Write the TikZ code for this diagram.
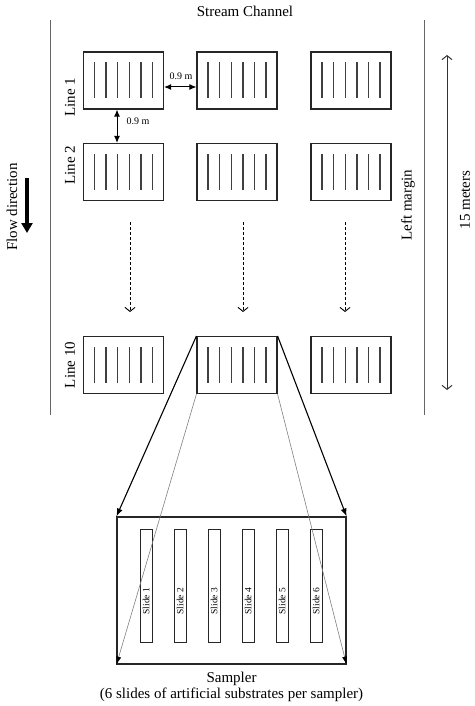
\documentclass[tikz,border=0pt]{standalone}
\usepackage{fontspec}
\setmainfont{Liberation Serif}
\usetikzlibrary{arrows.meta}

\begin{document}
\begin{tikzpicture}[x=1pt,y=-1pt,
	box/.style={draw=black!85, line width=1.1pt, fill=white, minimum width=80pt, minimum height=57pt,
		path picture={\foreach \k in {-2.5,-1.5,...,2.5}
			\draw[black!75, line width=1.4pt] ([xshift=\k*11.6pt, yshift=18pt]path picture bounding box.center) -- ([xshift=\k*11.6pt, yshift=-18pt]path picture bounding box.center);}}]
		\tikzstyle{big} = [font=\fontsize{15}{16}\selectfont]
		\tikzstyle{small} = [font=\fontsize{10}{11}\selectfont]
		\tikzstyle{slide} = [draw=black!85, line width=1pt, minimum width=12pt, minimum height=113pt, inner sep=0pt]
		\tikzstyle{slidetxt} = [rotate=90, font=\fontsize{9.5}{10}\selectfont, inner sep=0pt]
		\tikzstyle{bank} = [draw=black!60, line width=1pt]
		\tikzstyle{dim} = [{Latex[length=7pt,width=6pt]}-{Latex[length=7pt,width=6pt]}, line width=1pt]
		\tikzstyle{nextline} = [-{Straight Barb[length=4pt,width=10pt]}, line width=0.9pt, dash pattern=on 3pt off 2pt]
		\tikzstyle{zoomline} = [-{Latex[length=8pt,width=5pt,black]}, color=black!50, line width=0.6pt]

		\useasboundingbox (0,0) rectangle (474,706);

		% Channel banks
		\node[big] (title) at (245,11) {Stream Channel};
		\draw[bank] (50,20) -- (50,415);
		\draw[bank] (424,20) -- (424,415);
		\node[big, rotate=90] (margin) at (408,205) {Left margin};

		% Samplers on the lines
		\node[box] (a1) at (123.5,80.5) {};
		\node[box] (b1) at (237,80.5) {};
		\node[box] (c1) at (351,80.5) {};
		\node[box] (a2) at (123.5,172) {};
		\node[box] (b2) at (237,172) {};
		\node[box] (c2) at (351,172) {};
		\node[box] (a10) at (123.5,365) {};
		\node[box] (b10) at (237,365) {};
		\node[box] (c10) at (351,365) {};

		\node[big, rotate=90] (line1) at (70,97) {Line 1};
		\node[big, rotate=90] (line2) at (70,165) {Line 2};
		\node[big, rotate=90] (line10) at (70,365) {Line 10};

		% Spacing
		\path[dim] ([yshift=-6.5pt]a1.east) edge ([yshift=-6.5pt]b1.west);
		\path[dim] ([xshift=-6.5pt]a1.south) edge ([xshift=-6.5pt]a2.north);
		\node[small] (gapx) at (181,76) {0.9 m};
		\node[small] (gapy) at (138,121) {0.9 m};

		% Lines 3 to 9
		\coordinate (da) at (130,222);
		\coordinate (ea) at (130,312);
		\coordinate (db) at (243,222);
		\coordinate (eb) at (243,312);
		\coordinate (dc) at (345,222);
		\coordinate (ec) at (345,312);
		\path[nextline] (da) edge (ea);
		\path[nextline] (db) edge (eb);
		\path[nextline] (dc) edge (ec);

		% Flow and length
		\coordinate (f1) at (27,178);
		\coordinate (f2) at (27,233);
		\draw[line width=4pt, -{Triangle[length=10pt,width=11pt]}] (f1) -- (f2);
		\node[big, rotate=90] (flow) at (12,207) {Flow direction};
		\coordinate (m1) at (447,55);
		\coordinate (m2) at (447,390);
		\draw[black!80, line width=1pt, {Straight Barb[length=4pt,width=10pt]}-{Straight Barb[length=4pt,width=10pt]}] (m1) -- (m2);
		\node[big, rotate=90] (meters) at (465,200) {15 meters};

		% Zoom on one sampler
		\node[draw=black!85, line width=1.1pt, minimum width=229pt, minimum height=147pt] (smp) at (231.5,590.5) {};
		\node[slide] (s1) at (146,585.5) {};
		\node[slide] (s2) at (180,585.5) {};
		\node[slide] (s3) at (214,585.5) {};
		\node[slide] (s4) at (248,585.5) {};
		\node[slide] (s5) at (282,585.5) {};
		\node[slide] (s6) at (316,585.5) {};
		\node[slidetxt] (t1) at (146,601) {Slide 1};
		\node[slidetxt] (t2) at (180,601) {Slide 2};
		\node[slidetxt] (t3) at (214,601) {Slide 3};
		\node[slidetxt] (t4) at (248,601) {Slide 4};
		\node[slidetxt] (t5) at (282,601) {Slide 5};
		\node[slidetxt] (t6) at (316,601) {Slide 6};

		\path[-{Latex[length=8pt,width=6pt]}, line width=1.1pt] (b10.north west) edge (smp.north west);
		\path[-{Latex[length=8pt,width=6pt]}, line width=1.1pt] (b10.north east) edge (smp.north east);
		\draw[zoomline] (b10.south west) -- (smp.south west);
		\draw[zoomline] (b10.south east) -- (smp.south east);

		\node[big, align=center] (caption) at (231.5,686.5) {Sampler\\(6 slides of artificial substrates per sampler)};

		\end{tikzpicture}
\end{document}
